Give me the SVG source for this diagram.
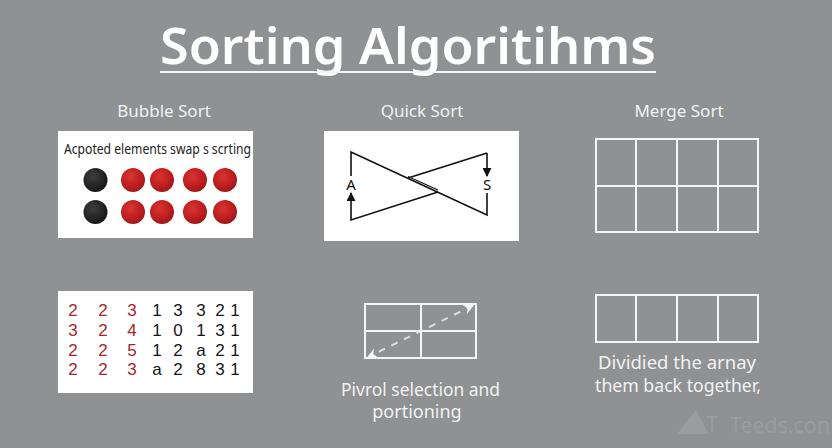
<svg xmlns="http://www.w3.org/2000/svg" width="832" height="448" viewBox="0 0 832 448">
<defs>
<radialGradient id="red" cx="0.4" cy="0.35" r="0.7"><stop offset="0" stop-color="#d83434"/><stop offset="0.6" stop-color="#bf1e1e"/><stop offset="1" stop-color="#961a1a"/></radialGradient>
<radialGradient id="blk" cx="0.4" cy="0.35" r="0.7"><stop offset="0" stop-color="#3d3d3d"/><stop offset="1" stop-color="#141414"/></radialGradient>
<marker id="ah" viewBox="0 0 10 10" refX="9" refY="5" markerWidth="9" markerHeight="9" markerUnits="userSpaceOnUse" orient="auto"><path d="M0 0L10 5L0 10Z" fill="#111"/></marker>
<marker id="aw" viewBox="0 0 10 10" refX="9" refY="5" markerWidth="10" markerHeight="10" markerUnits="userSpaceOnUse" orient="auto-start-reverse"><path d="M0 0L10 5L0 10L3 5Z" fill="#f6f6f6"/></marker>
</defs>
<style>
text{font-family:"Noto Sans","Open Sans","Liberation Sans",sans-serif}
.h{font-size:17px;fill:#f2f2f2;text-anchor:middle}
.c{font-size:18px;fill:#f2f2f2;text-anchor:middle}
.g{fill:none;stroke:#f5f5f5;stroke-width:2}
.p{fill:#fff}
.l{fill:none;stroke:#111;stroke-width:1.6}
text.d{font-family:"Liberation Sans",sans-serif;font-size:17px;text-anchor:middle}
.r{fill:#a8242c}
.k{fill:#151515}
.rb{fill:url(#red)}
.bb{fill:url(#blk)}
</style>
<rect width="832" height="448" fill="#8f9192"/>
<g id="title">
<text x="160" y="64" font-size="51" font-weight="600" fill="#fff" textLength="496" lengthAdjust="spacingAndGlyphs">Sorting Algoritihms</text>
<rect x="160" y="71" width="496" height="2" fill="#f5f5f5"/>
</g>
<g id="bubble-sort">
<text class="h" x="164" y="117">Bubble Sort</text>
<rect class="p" x="58" y="131" width="195" height="107"/>
<text x="64" y="154" font-size="14" fill="#222" textLength="187" lengthAdjust="spacingAndGlyphs">Acpoted elements swap s scrting</text>
<circle class="bb" cx="95.500" cy="180" r="12"/><circle class="rb" cx="133" cy="180" r="12"/><circle class="rb" cx="162" cy="180" r="12"/><circle class="rb" cx="195" cy="180" r="12"/><circle class="rb" cx="225" cy="180" r="12"/>
<circle class="bb" cx="95.500" cy="212" r="12"/><circle class="rb" cx="133" cy="212" r="12"/><circle class="rb" cx="162" cy="212" r="12"/><circle class="rb" cx="195" cy="212" r="12"/><circle class="rb" cx="225" cy="212" r="12"/>
</g>
<g id="bubble-table">
<rect class="p" x="58" y="291" width="195" height="102"/>
<text class="d"><tspan class="r" x="73" y="316">2</tspan><tspan class="r" x="103" y="316">2</tspan><tspan class="r" x="132" y="316">3</tspan><tspan class="k" x="157" y="316">1</tspan><tspan class="k" x="178" y="316">3</tspan><tspan class="k" x="201" y="316">3</tspan><tspan class="k" x="220" y="316">2</tspan><tspan class="k" x="235" y="316">1</tspan><tspan class="r" x="73" y="336">3</tspan><tspan class="r" x="103" y="336">2</tspan><tspan class="r" x="132" y="336">4</tspan><tspan class="k" x="157" y="336">1</tspan><tspan class="k" x="178" y="336">0</tspan><tspan class="k" x="201" y="336">1</tspan><tspan class="k" x="220" y="336">3</tspan><tspan class="k" x="235" y="336">1</tspan><tspan class="r" x="73" y="355.500">2</tspan><tspan class="r" x="103" y="355.500">2</tspan><tspan class="r" x="132" y="355.500">5</tspan><tspan class="k" x="157" y="355.500">1</tspan><tspan class="k" x="178" y="355.500">2</tspan><tspan class="k" x="201" y="355.500">a</tspan><tspan class="k" x="220" y="355.500">2</tspan><tspan class="k" x="235" y="355.500">1</tspan><tspan class="r" x="73" y="375">2</tspan><tspan class="r" x="103" y="375">2</tspan><tspan class="r" x="132" y="375">3</tspan><tspan class="k" x="157" y="375">a</tspan><tspan class="k" x="178" y="375">2</tspan><tspan class="k" x="201" y="375">8</tspan><tspan class="k" x="220" y="375">3</tspan><tspan class="k" x="235" y="375">1</tspan></text>
</g>
<g id="quick-sort">
<text class="h" x="422" y="117">Quick Sort</text>
<rect class="p" x="324" y="131" width="195" height="110"/>
<text x="351" y="190" font-size="15" fill="#111" text-anchor="middle">A</text>
<text x="487" y="190" font-size="15" fill="#111" text-anchor="middle">S</text>
</g>
<g id="connectors">
<path class="l" d="M351 176V152L487 215V193"/>
<path class="l" d="M487 153V176" marker-end="url(#ah)"/>
<path class="l" d="M487 153L408 178"/>
<path d="M408 176.500L438 190" fill="none" stroke="#111" stroke-width="1.100"/>
<path class="l" d="M438 192L351 220V193" marker-end="url(#ah)"/>
<path d="M473 305.500L368 357" fill="none" stroke="#dcdcdc" stroke-width="2" stroke-dasharray="7 7" marker-start="url(#aw)" marker-end="url(#aw)"/>
</g>
<g id="pivot">
<path class="g" d="M365 304H476V358H365ZM421 304V358M365 331H476"/>
<text class="c" x="420.500" y="396" textLength="159" lengthAdjust="spacingAndGlyphs">Pivrol selection and</text>
<text class="c" x="417" y="418">portioning</text>
</g>
<g id="merge-sort">
<text class="h" x="679" y="117">Merge Sort</text>
<path class="g" d="M596 139H758V232H596ZM636 139V232M677 139V232M718 139V232M596 186H758"/>
</g>
<g id="merge-row">
<path class="g" d="M596 295H758V342H596ZM636 295V342M677 295V342M718 295V342"/>
<text class="c" x="677" y="369" textLength="158" lengthAdjust="spacingAndGlyphs">Dividied the arnay</text>
<text class="c" x="678" y="392" textLength="166" lengthAdjust="spacingAndGlyphs">them back together,</text>
</g>
<g id="watermark" fill="#9a9c9d">
<path d="M677 434L696 410L709 434Z"/>
<text x="706" y="432" font-size="22">T</text>
<text x="730" y="433" font-size="22" textLength="100" lengthAdjust="spacingAndGlyphs">Teeds.con</text>
</g>
</svg>
